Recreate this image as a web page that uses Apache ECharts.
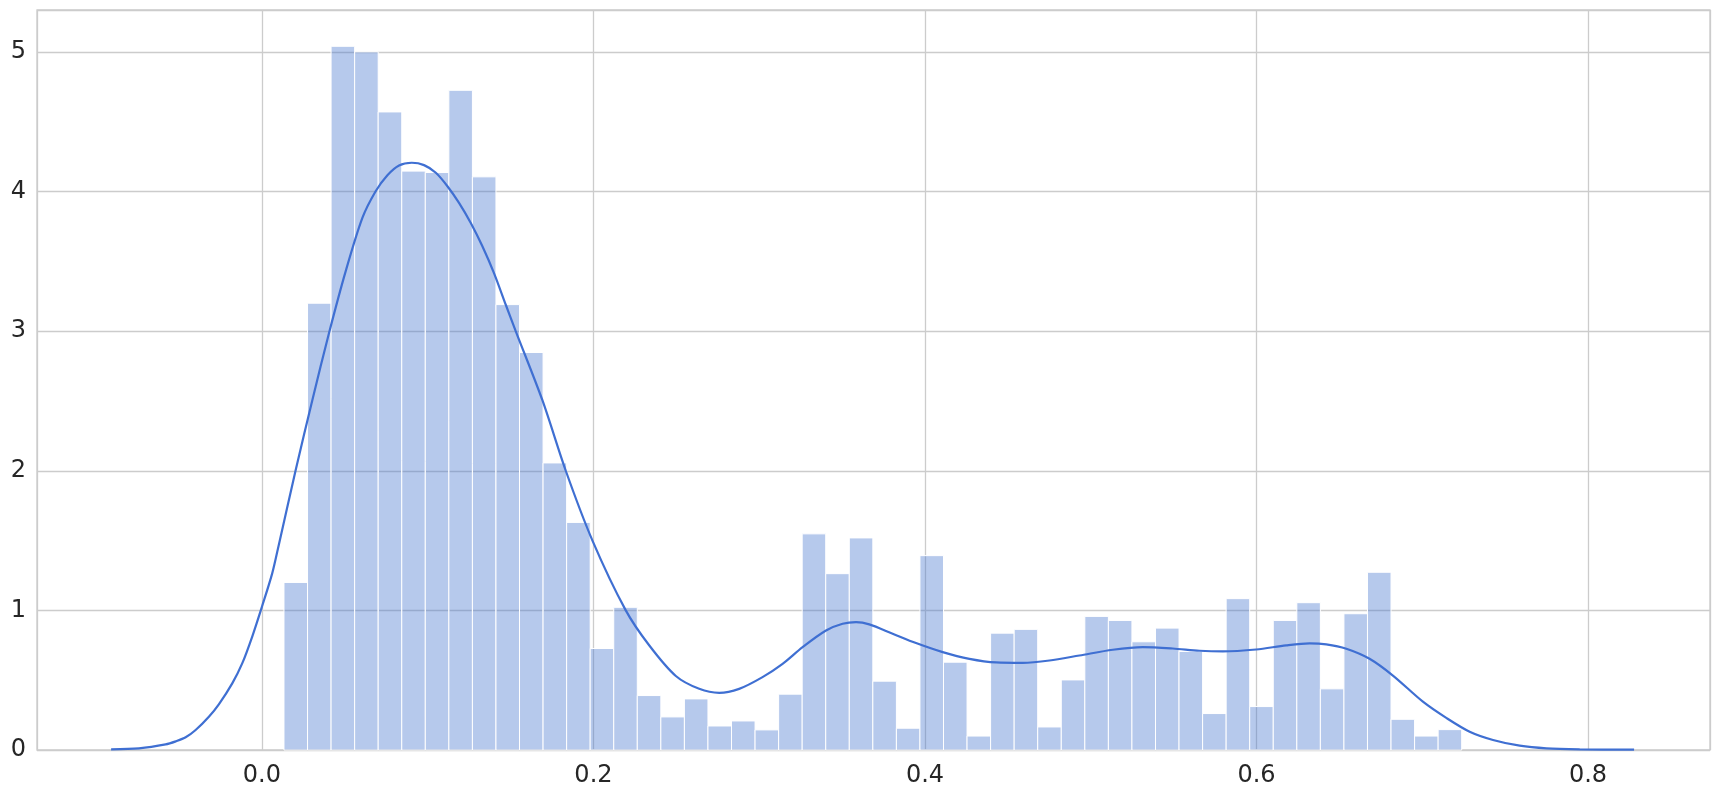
<!DOCTYPE html>
<html>
<head>
<meta charset="utf-8">
<script src="https://cdn.jsdelivr.net/npm/echarts@6/dist/echarts.min.js"></script>
<style>
  html, body { margin: 0; padding: 0; background: #ffffff; }
  #chart { width: 1720px; height: 796px; }
</style>
</head>
<body>
<div id="chart"></div>
<script>
// Histogram: first bin edge, bin width, and bar heights (density)
const binStart = 0.0133;
const binWidth = 0.01421;
const barHeights = [
  1.20, 3.20, 5.04, 5.00, 4.57, 4.146, 4.136, 4.725, 4.105, 3.19,
  2.847, 2.056, 1.63, 0.727, 1.022, 0.390, 0.237, 0.366, 0.172, 0.208,
  0.144, 0.400, 1.548, 1.263, 1.519, 0.493, 0.156, 1.392, 0.629, 0.100,
  0.837, 0.864, 0.165, 0.502, 0.957, 0.928, 0.775, 0.873, 0.706, 0.261,
  1.084, 0.311, 0.928, 1.055, 0.438, 0.976, 1.273, 0.220, 0.100, 0.146
];

// KDE curve sample points
const kdeX = [
  -0.091, -0.0742, -0.0581, -0.052, -0.046, -0.040, -0.032, -0.026, -0.0179, -0.0119, -0.0059,
  0.0, 0.0062, 0.0103, 0.0203, 0.0304, 0.0404, 0.0505, 0.0606, 0.0686, 0.0757,
  0.0827, 0.0904, 0.0978, 0.1049, 0.1119, 0.1189, 0.1260, 0.1330, 0.1400, 0.1471,
  0.1531, 0.1692, 0.1833, 0.1994, 0.2195, 0.2336, 0.2497, 0.2638, 0.2759, 0.2879,
  0.3020, 0.3141, 0.3262, 0.3403, 0.3503, 0.3584, 0.3664, 0.3805, 0.3946, 0.4107,
  0.4268, 0.4429, 0.4590, 0.4751, 0.4932, 0.5133, 0.5314, 0.5495, 0.5656, 0.5797,
  0.5998, 0.6179, 0.6320, 0.6421, 0.6542, 0.6682, 0.6823, 0.7004, 0.7145, 0.7286,
  0.7427, 0.7588, 0.7749, 0.7950, 0.8278
];
const kdeY = [
  0.005, 0.012, 0.040, 0.062, 0.091, 0.143, 0.238, 0.327, 0.477, 0.620, 0.811,
  1.026, 1.265, 1.476, 2.002, 2.505, 2.983, 3.428, 3.811, 4.002, 4.117,
  4.187, 4.206, 4.189, 4.134, 4.038, 3.919, 3.775, 3.608, 3.416, 3.189,
  3.000, 2.505, 2.000, 1.500, 1.000, 0.750, 0.530, 0.438, 0.409, 0.438,
  0.522, 0.617, 0.737, 0.856, 0.904, 0.916, 0.900, 0.833, 0.766, 0.701,
  0.653, 0.627, 0.624, 0.641, 0.677, 0.718, 0.737, 0.727, 0.711, 0.706,
  0.720, 0.749, 0.763, 0.756, 0.725, 0.653, 0.533, 0.346, 0.230, 0.131,
  0.072, 0.031, 0.012, 0.005, 0.002
];

const xMin = -0.1357, xMax = 0.8736;
const yMin = 0, yMax = 5.3;

const histData = barHeights.map((h, i) => [binStart + i * binWidth, binStart + (i + 1) * binWidth, h]);
const kdeData = kdeX.map((x, i) => [x, kdeY[i]]);

const chart = echarts.init(document.getElementById('chart'), null, { renderer: 'canvas' });
const gridColor = '#cccccc';
const labelStyle = { fontFamily: 'DejaVu Sans', fontSize: 24, color: '#262626' };

chart.setOption({
  backgroundColor: '#ffffff',
  animation: false,
  grid: {
    left: 37, right: 10, top: 10, bottom: 46,
    containLabel: false,
    outerBoundsMode: 'none',
    show: true,
    borderColor: gridColor,
    borderWidth: 1.3,
    backgroundColor: 'transparent'
  },
  xAxis: {
    type: 'value',
    min: xMin, max: xMax,
    splitNumber: 5,
    axisLine: { show: false },
    axisTick: { show: false },
    splitLine: { show: true, lineStyle: { color: gridColor, width: 1.3 } },
    axisLabel: Object.assign({
      margin: 14,
      showMinLabel: false,
      showMaxLabel: false,
      formatter: v => v.toFixed(1)
    }, labelStyle)
  },
  yAxis: {
    type: 'value',
    min: yMin, max: yMax,
    splitNumber: 5,
    axisLine: { show: false },
    axisTick: { show: false },
    splitLine: { show: true, lineStyle: { color: gridColor, width: 1.3 } },
    axisLabel: Object.assign({
      margin: 11,
      showMaxLabel: false,
      formatter: v => String(v)
    }, labelStyle)
  },
  series: [
    {
      type: 'custom',
      z: 2,
      data: histData,
      encode: { x: [0, 1], y: 2 },
      renderItem: function (params, api) {
        const p0 = api.coord([api.value(0), api.value(2)]);
        const p1 = api.coord([api.value(1), 0]);
        return {
          type: 'rect',
          shape: { x: p0[0], y: p0[1], width: p1[0] - p0[0], height: p1[1] - p0[1] },
          style: { fill: 'rgba(72,120,208,0.4)', stroke: '#ffffff', lineWidth: 1 }
        };
      }
    },
    {
      type: 'line',
      z: 3,
      data: kdeData,
      showSymbol: false,
      smooth: 0.3,
      lineStyle: { color: '#3f6fd2', width: 2.2 }
    }
  ]
});
</script>
</body>
</html>
